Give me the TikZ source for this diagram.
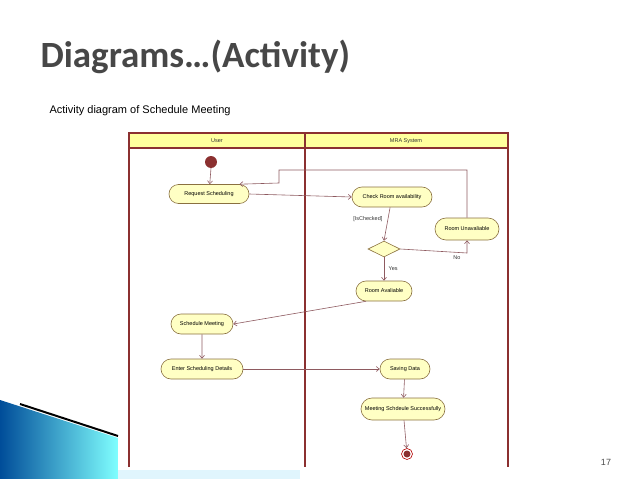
\documentclass[tikz,border=0pt]{standalone}
\usepackage{fontspec}
\setmainfont{Liberation Sans}
\newfontfamily\titlefont{Carlito}
\usetikzlibrary{shapes.geometric,shapes.misc,arrows.meta}
\definecolor{lane}{HTML}{8B3030}
\definecolor{edge}{HTML}{8E5A60}
\definecolor{nfill}{HTML}{FFFFC4}
\definecolor{nbord}{HTML}{8A7040}
\tikzset{
  act/.style={rounded rectangle, draw=nbord, fill=nfill, line width=0.6pt, minimum height=#1, inner xsep=3pt, font=\fontsize{5.5}{6.5}\selectfont},
  act/.default=19pt,
  flow/.style={draw=edge, line width=0.6pt, -{Straight Barb[length=3pt,width=5pt]}},
  lbl/.style={font=\fontsize{5.5}{6.5}\selectfont, text=black!80},
}
\begin{document}
\begin{tikzpicture}[x=1pt,y=-1pt]
\useasboundingbox (0,0) rectangle (638,479);
% decoration
\shade[left color=blue!50!cyan!60!black, right color=cyan!50!white] (0,400) -- (118,438) -- (118,479) -- (0,479) -- cycle;
\draw[black, line width=2pt] (20,404) -- (118,436);
\fill[cyan!12] (118,470) rectangle (300,479);
% titles
\node[anchor=west, text=black!72, font=\titlefont\bfseries\fontsize{37}{40}\selectfont] (title) at (37,57) {Diagrams…(Activity)};
\node[anchor=west, font=\fontsize{11}{13}\selectfont] (sub) at (46,111) {Activity diagram of Schedule Meeting};
\node[font=\fontsize{9}{11}\selectfont, text=black!70] (pg) at (606,462) {17};
% swimlanes
\fill[nfill!80!yellow] (129,133) rectangle (508,148);
\draw[lane, line width=1.1pt] (129,467) -- (129,133) -- (508,133) -- (508,467);
\draw[lane, line width=1.1pt] (129,148) -- (508,148);
\draw[lane, line width=1.1pt] (305,133) -- (305,467);
\node[lbl] (u) at (217,141) {User};
\node[lbl] (m) at (406,141) {MRA System};
% nodes
\fill[lane] (211,162) circle (6) coordinate (start);
\node[act, minimum width=86pt] (req) at (209,194) {Request Scheduling};
\node[act=20pt, minimum width=86pt] (chk) at (392,197) {Check Room availability};
\node[act=22pt, minimum width=70pt] (un) at (467,229) {Room Unavaliable};
\node[diamond, draw=nbord, fill=nfill, line width=0.6pt, minimum width=32pt, minimum height=16pt, inner sep=0pt, aspect=2] (d) at (384,249) {};
\node[act=20pt, minimum width=62pt] (av) at (384,291) {Room Avaliable};
\node[act=20pt, minimum width=68pt] (sm) at (202,324) {Schedule Meeting};
\node[act=20pt, minimum width=88pt] (esd) at (202,369) {Enter Scheduling Details};
\node[act=20pt, minimum width=56pt] (sd) at (405,369) {Saving Data};
\node[act=22pt, minimum width=90pt] (ms) at (403,409) {Meeting Schdeule Successfully};
\node[circle, draw=red!70!black, line width=0.6pt, minimum size=11pt, inner sep=0pt] (end) at (407,454) {};
\fill[lane] (end) circle (3.5);
% edges
\draw[flow] (211,168) -- (req);
\draw[flow] (req.east) -- (chk.west);
\draw[flow] (chk) -- (d.north) node[lbl, pos=0.35, left=2pt] {[IsChecked]};
\draw[flow] (d.east) -- (467,253) node[lbl, below, pos=0.85] {No} -- (un.south);
\draw[flow] (un.north) -- (467,170) -- (279,170) -- (279,183) -- (req.north east);
\draw[flow] (d.south) -- (av.north) node[lbl, midway, right=1pt] {Yes};
\draw[flow] (av.south west) -- (sm.east);
\draw[flow] (sm) -- (esd);
\draw[flow] (esd.east) -- (sd.west);
\draw[flow] (sd) -- (ms);
\draw[flow] (ms) -- (end);
\end{tikzpicture}
\end{document}
